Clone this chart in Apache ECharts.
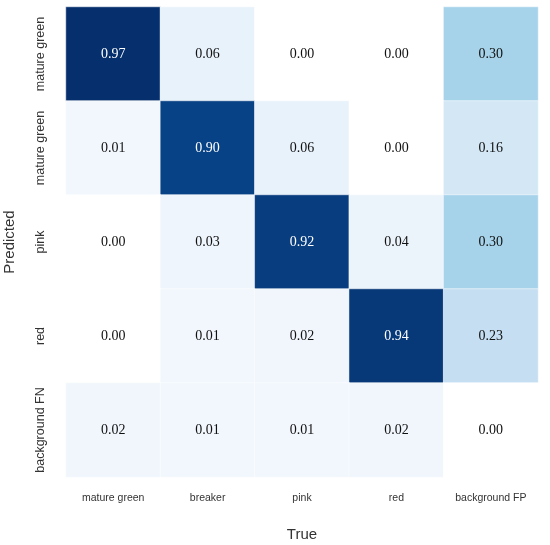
<!DOCTYPE html>
<html><head><meta charset="utf-8">
<script src="https://cdn.jsdelivr.net/npm/echarts@6/dist/echarts.min.js"></script>
<style>html,body{margin:0;padding:0;background:#fff}#c{width:550px;height:545px}</style>
</head><body><div id="c"></div>
<script>
const trueLabels = ['mature green', 'breaker', 'pink', 'red', 'background FP'];
const predLabels = ['mature green', 'mature green', 'pink', 'red', 'background FN'];
const row0 = [0.97, 0.06, 0.00, 0.00, 0.30];
const row1 = [0.01, 0.90, 0.06, 0.00, 0.16];
const row2 = [0.00, 0.03, 0.92, 0.04, 0.30];
const row3 = [0.00, 0.01, 0.02, 0.94, 0.23];
const row4 = [0.02, 0.01, 0.01, 0.02, 0.00];
const rows = [row0, row1, row2, row3, row4];

const data = [];
rows.forEach((r, yi) => r.forEach((v, xi) => data.push({
  value: [xi, yi, v],
  label: { color: v > 0.5 ? '#ffffff' : '#111111' }
})));

const chart = echarts.init(document.getElementById('c'));
chart.setOption({
  animation: false,
  grid: { left: 66, right: 12, top: 7, bottom: 68, outerBoundsMode: 'none', containLabel: false },
  xAxis: {
    type: 'category', data: trueLabels, position: 'bottom',
    name: 'True', nameLocation: 'middle', nameGap: 50,
    nameTextStyle: { fontFamily: 'Liberation Sans', fontSize: 15, color: '#333' },
    axisLine: { show: false }, axisTick: { show: false }, splitLine: { show: false },
    axisLabel: { interval: 0, fontFamily: 'Liberation Sans', fontSize: 10.5, color: '#333', margin: 16 }
  },
  yAxis: {
    type: 'category', data: predLabels, inverse: true,
    name: 'Predicted', nameLocation: 'middle', nameGap: 49,
    nameTextStyle: { fontFamily: 'Liberation Sans', fontSize: 15, color: '#333' },
    axisLine: { show: false }, axisTick: { show: false }, splitLine: { show: false },
    axisLabel: { interval: 0, fontFamily: 'Liberation Sans', fontSize: 12.5, color: '#333', rotate: 90, margin: 25, align: 'center', verticalAlign: 'middle' }
  },
  visualMap: {
    show: false, min: 0, max: 0.97, range: [0.005, 0.97], dimension: 2,
    inRange: { color: ['#f4f8fd', '#dbebf8', '#c2ddf0', '#88c7e3', '#5aaad5', '#3a8dc4', '#1f6fb3', '#0a4f99', '#06306d'] },
    outOfRange: { color: '#ffffff' }
  },
  series: [{
    type: 'heatmap', data: data,
    itemStyle: { borderColor: '#ffffff', borderWidth: 0.5 },
    label: {
      show: true, fontFamily: 'Liberation Serif', fontSize: 14,
      formatter: p => p.value[2].toFixed(2)
    },
    emphasis: { disabled: true }
  }]
});
</script></body></html>
